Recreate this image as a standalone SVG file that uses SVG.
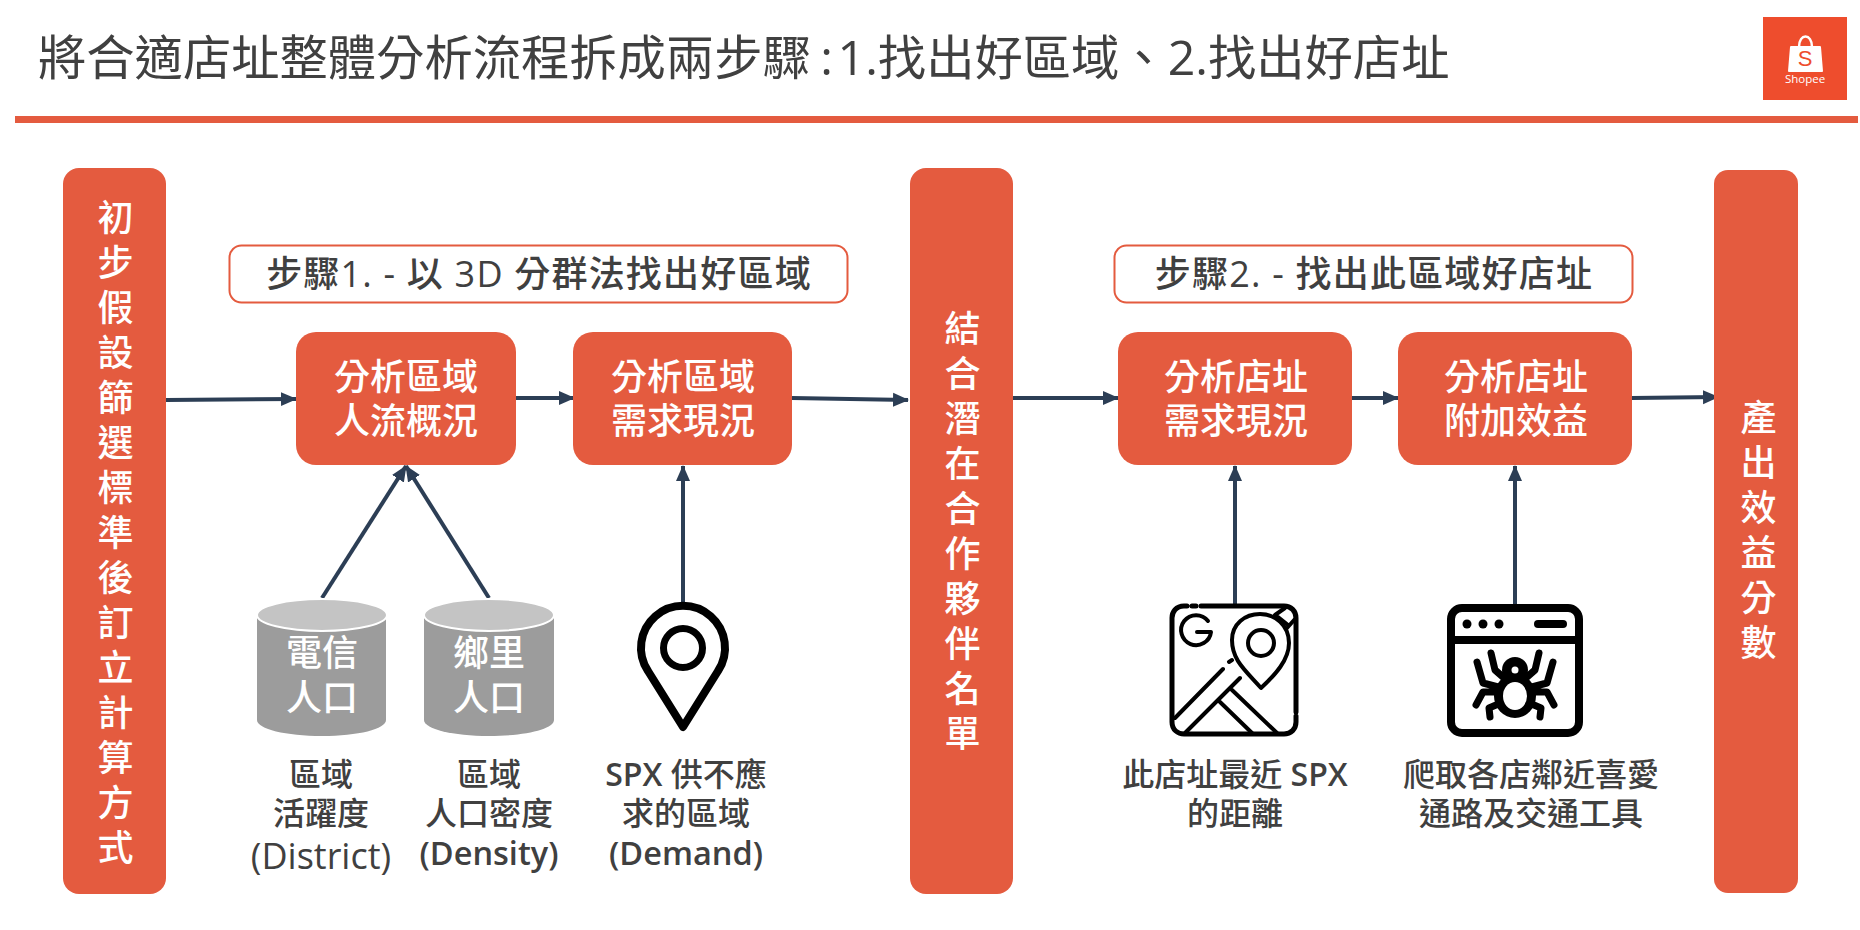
<svg xmlns="http://www.w3.org/2000/svg" width="1860" height="930" viewBox="0 0 1860 930">
<style>
text{font-family:"Open Sans","Noto Sans CJK TC","Noto Sans CJK JP",sans-serif}
.r{fill:#E45B3F}
.w{fill:#fff;font-size:36px;font-weight:500;text-anchor:middle}
.v{fill:#fff;font-size:36px;font-weight:500;writing-mode:vertical-rl;letter-spacing:9px;text-anchor:start}
.h{fill:#404040;font-size:36px;font-weight:500;text-anchor:middle;letter-spacing:1.200px}
.l{fill:#404040;font-size:32px;font-weight:500;text-anchor:middle}
.e{font-size:36px;font-weight:400}
.f{font-size:32.500px;font-weight:600}
.s{font-weight:600}
.c{fill:#fff;font-size:36px;font-weight:500;text-anchor:middle}
.a{stroke:#2C3E55;stroke-width:4;fill:none;marker-end:url(#ah)}
.i{fill:none;stroke:#000;stroke-linecap:round;stroke-linejoin:round}
</style>
<defs>
<marker id="ah" markerUnits="userSpaceOnUse" markerWidth="16" markerHeight="16" refX="15" refY="8" orient="auto"><path d="M0 1L16 8L0 15Z" fill="#2C3E55"/></marker>
</defs>
<rect width="1860" height="930" fill="#fff"/>
<g id="title">
<text x="38" y="75" font-size="48.300" fill="#404040">將合適店址整體分析流程拆成兩步驟<tspan dx="-3"> :</tspan><tspan dx="-8"> 1.</tspan>找出好區域、2.找出好店址</text>
<rect x="15" y="116" width="1843" height="7" class="r"/>
</g>
<g id="logo">
<rect x="1763" y="17" width="84" height="83" fill="#EE4D2D"/>
<path d="M1791 47H1820L1822 71H1789Z" fill="#fff" stroke="#fff" stroke-width="2" stroke-linejoin="round"/>
<path d="M1799 47C1799 33 1812 33 1812 47" fill="none" stroke="#fff" stroke-width="2.500"/>
<text x="1805" y="66" font-size="22" fill="#EE4D2D" text-anchor="middle" style="font-family:'Liberation Sans',sans-serif">S</text>
<text x="1805" y="83" font-size="11.500" fill="#fff" text-anchor="middle">Shopee</text>
</g>
<g id="connectors">
<path class="a" d="M166 400L296 399"/>
<path class="a" d="M516 398H574"/>
<path class="a" d="M792 398L908 400"/>
<path class="a" d="M1013 398H1118"/>
<path class="a" d="M1352 398H1398"/>
<path class="a" d="M1632 398L1718 397"/>
<path class="a" d="M322 598L406 466"/>
<path class="a" d="M489 598L406 466"/>
<path class="a" d="M683 604V466"/>
<path class="a" d="M1235 604V466"/>
<path class="a" d="M1515 604V466"/>
</g>
<g id="n-hypothesis"><rect x="63" y="168" width="103" height="726" rx="16" class="r"/><text class="v" x="113" y="199">初步假設篩選標準後訂立計算方式</text></g>
<g id="n-merge"><rect x="910" y="168" width="103" height="726" rx="16" class="r"/><text class="v" x="960" y="310">結合潛在合作夥伴名單</text></g>
<g id="n-output"><rect x="1714" y="170" width="84" height="723" rx="14" class="r"/><text class="v" x="1756" y="399">產出效益分數</text></g>
<g id="step1"><rect x="229.500" y="245.500" width="618" height="57" rx="12" fill="#fff" stroke="#E45B3F" stroke-width="2"/><text class="h" x="539" y="287">步驟1. - 以 3D 分群法找出好區域</text></g>
<g id="step2"><rect x="1114.500" y="245.500" width="518" height="57" rx="12" fill="#fff" stroke="#E45B3F" stroke-width="2"/><text class="h" x="1374" y="287">步驟2. - 找出此區域好店址</text></g>
<g id="n-a1"><rect x="296" y="332" width="220" height="133" rx="20" class="r"/><text class="w"><tspan x="406" y="390">分析區域</tspan><tspan x="406" y="434">人流概況</tspan></text></g>
<g id="n-a2"><rect x="573" y="332" width="219" height="133" rx="20" class="r"/><text class="w"><tspan x="683" y="390">分析區域</tspan><tspan x="683" y="434">需求現況</tspan></text></g>
<g id="n-b1"><rect x="1118" y="332" width="234" height="133" rx="20" class="r"/><text class="w"><tspan x="1236" y="390">分析店址</tspan><tspan x="1236" y="434">需求現況</tspan></text></g>
<g id="n-b2"><rect x="1398" y="332" width="234" height="133" rx="20" class="r"/><text class="w"><tspan x="1516" y="390">分析店址</tspan><tspan x="1516" y="434">附加效益</tspan></text></g>
<g id="db1">
<path d="M257 615V720C257 729 286 736 322 736S386 729 386 720V615Z" fill="#9C9C9C"/>
<ellipse cx="322" cy="615" rx="65" ry="16" fill="#C4C4C4" stroke="#fff" stroke-width="2"/>
<text class="c"><tspan x="322" y="666">電信</tspan><tspan x="322" y="711">人口</tspan></text>
</g>
<g id="db2">
<path d="M424 615V720C424 729 453 736 489 736S554 729 554 720V615Z" fill="#9C9C9C"/>
<ellipse cx="489" cy="615" rx="65" ry="16" fill="#C4C4C4" stroke="#fff" stroke-width="2"/>
<text class="c"><tspan x="489" y="666">鄉里</tspan><tspan x="489" y="711">人口</tspan></text>
</g>
<g id="pin">
<path class="i" stroke-width="8" d="M683 727L648 671A42 42 0 1 1 718 671Z"/>
<circle class="i" cx="683" cy="648" r="19.500" stroke-width="7"/>
</g>
<g id="gmap" class="i" stroke-width="4">
<path stroke-width="5" d="M1187 606H1184C1176 606 1172 612 1172 618V722C1172 730 1178 734 1184 734H1284C1291 734 1296 729 1296 722V716M1296 712V618C1296 611 1291 606 1284 606H1201M1192 606H1196"/>
<path d="M1208 621A15 15 0 1 0 1211 632H1197"/>
<circle cx="1261" cy="643" r="13"/>
<path d="M1261 688C1245 670 1232 660 1232 640C1232 624 1245 614 1260 614C1275 614 1289 625 1289 643C1289 660 1275 675 1261 688Z"/>
<path d="M1275 615L1285 608M1287 628L1295 619M1278 617L1288 625"/>
<path d="M1175 718L1223 669M1229 662L1232 660M1185 733L1240 678M1220 702L1252 733M1232 690L1277 733"/>
</g>
<g id="spider">
<rect x="1451" y="608" width="128" height="125" rx="11" class="i" stroke-width="8"/>
<path class="i" stroke-width="8" d="M1451 640H1579"/>
<circle cx="1467" cy="624" r="4.500"/><circle cx="1483" cy="624" r="4.500"/><circle cx="1499" cy="624" r="4.500"/>
<path class="i" stroke-width="8" d="M1538 624H1563"/>
<path class="i" stroke-width="7" d="M1491 653L1495 670L1503 677M1539 653L1535 670L1527 677M1477 662L1483 683L1502 688M1553 662L1547 683L1528 688M1476 705L1483 692H1500M1554 705L1547 692H1530M1490 717L1489 708L1503 702M1540 717L1541 708L1527 702"/>
<circle cx="1515" cy="670" r="13"/>
<circle cx="1515" cy="670" r="3.500" fill="#fff"/>
<ellipse cx="1515" cy="696" rx="21" ry="22"/>
<ellipse cx="1515" cy="696" rx="12" ry="14" fill="#fff"/>
</g>
<g id="labels">
<text class="l"><tspan x="321" y="786">區域</tspan><tspan x="321" y="825">活躍度</tspan><tspan x="321" y="869" class="e">(District)</tspan></text>
<text class="l"><tspan x="489" y="786">區域</tspan><tspan x="489" y="825">人口密度</tspan><tspan x="489" y="865" class="f">(Density)</tspan></text>
<text class="l"><tspan x="686" y="786"><tspan class="s">SPX</tspan> 供不應</tspan><tspan x="686" y="825">求的區域</tspan><tspan x="686" y="865" class="f">(Demand)</tspan></text>
<text class="l"><tspan x="1235" y="786">此店址最近 <tspan class="s">SPX</tspan></tspan><tspan x="1235" y="825">的距離</tspan></text>
<text class="l"><tspan x="1531" y="786">爬取各店鄰近喜愛</tspan><tspan x="1531" y="825">通路及交通工具</tspan></text>
</g>
</svg>
